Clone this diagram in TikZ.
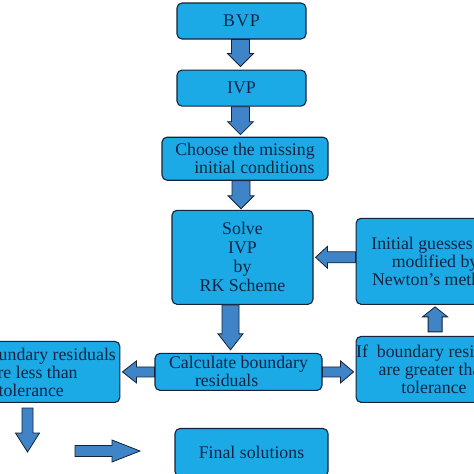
\documentclass[tikz,border=0pt]{standalone}
\usepackage{fontspec}
\setmainfont{Liberation Serif}
\usepackage{tikz}
\usetikzlibrary{positioning,calc}
\definecolor{boxblue}{RGB}{28,170,230}
\definecolor{arrblue}{RGB}{62,132,198}
\definecolor{edgenavy}{RGB}{22,34,56}
\definecolor{textnavy}{RGB}{16,36,68}
\tikzset{
  stepbox/.style={draw=edgenavy, line width=1.1pt, rounded corners=5pt,
    fill=boxblue, text=textnavy, inner sep=2pt,
    font=\fontsize{17.8}{18}\selectfont},
  % block arrow: shaft width, head width, head length
  blockarr/.style n args={3}{draw=edgenavy, fill=arrblue, line width=0.8pt,
    to path={let \p1=(\tikztostart), \p2=(\tikztotarget),
      \n1={atan2(\y2-\y1,\x2-\x1)}, \n2={veclen(\x2-\x1,\y2-\y1)} in
      {[shift={(\p1)}, rotate=\n1]
        (0,{-#1/2}) -- ({\n2-#3},{-#1/2}) -- ({\n2-#3},{-#2/2}) -- (\n2,0)
        -- ({\n2-#3},{#2/2}) -- ({\n2-#3},{#1/2}) -- (0,{#1/2}) -- cycle}}},
}

\begin{document}
\begin{tikzpicture}[x=1pt, y=-1pt]
  \useasboundingbox (0,0) rectangle (474,474);
  \clip (0,0) rectangle (474,474);
  \fill[white] (0,0) rectangle (474,474);

  % Main column
  \node[stepbox, minimum width=129pt, minimum height=36pt] (bvp) at (241.5,21)
    {B\kern1pt V\kern1pt P};
  \node[stepbox, minimum width=129pt, minimum height=36pt,
        below=30pt of bvp] (ivp) {IVP};
  \node[stepbox, minimum width=166pt, minimum height=43pt, align=left,
        below=30pt of ivp, xshift=3.5pt] (choose)
    {Choose the missing\\\hspace*{19pt}initial conditions};
  \node[stepbox, minimum width=141pt, minimum height=94pt, align=center,
        below=29pt of choose, xshift=-2.5pt] (solve)
    {Solve\\[1pt]IVP\\[1pt]by\\[1pt]RK Scheme};
  \node[stepbox, minimum width=167pt, minimum height=37pt, align=left,
        below=48pt of solve, xshift=-4pt] (calc)
    {Calculate boundary\\\hspace*{26pt}residuals};
  \node[stepbox, minimum width=153pt, minimum height=48pt,
        below=37pt of calc, xshift=13pt] (final) {Final solutions};

  % Side boxes
  \node[stepbox, minimum width=158pt, minimum height=86pt, align=center,
        right=42pt of solve, yshift=-4pt] (guess)
    {Initial guesses are\\modified by\\Newton's method};
  \node[stepbox, minimum height=61pt, inner xsep=4pt, align=left,
        left=34pt of calc] (less)
    {If boundary residuals\\\hspace*{25pt}are less than\\\hspace*{34pt}tolerance};
  \node[stepbox, minimum width=150pt, minimum height=66pt, inner xsep=0pt,
        align=center, right=33pt of calc, yshift=2.5pt] (greater)
    {If\ \ boundary residuals\\are greater than\\tolerance};

  % Free ends of the bottom arrows
  \coordinate (downA) at (27.5,408);
  \coordinate (downB) at (27.5,452);
  \coordinate (rightA) at (75,451);
  \coordinate (rightB) at (140,451);

  % Arrows
  \draw[blockarr={18}{26}{13}] ([xshift=-1pt]bvp.south)
    to ($(bvp.south |- ivp.north)+(-1pt,3pt)$);
  \draw[blockarr={18}{26}{13}] ([xshift=-1pt]ivp.south)
    to ($(ivp.south |- choose.north)+(-1pt,2pt)$);
  \draw[blockarr={18}{26}{13}] ([xshift=-4pt]choose.south)
    to ($(choose.south |- solve.north)+(-4pt,1pt)$);
  \draw[blockarr={11}{22}{12}] (guess.west |- solve.east) to ([xshift=2pt]solve.east);
  \draw[blockarr={17}{25}{16}] ([xshift=-12pt]solve.south)
    to ($(solve.south |- calc.north)+(-12pt,3pt)$);
  \draw[blockarr={10}{22}{14}] (calc.west) to ($(less.east |- calc.west)+(2pt,0pt)$);
  \draw[blockarr={10}{22}{13}] (calc.east) to ($(greater.west |- calc.east)+(-2pt,0pt)$);
  \draw[blockarr={14}{25}{10}] ($(guess.south |- greater.north)+(0pt,4pt)$)
    to ([yshift=-2pt]guess.south);
  \draw[blockarr={11}{24}{19}] (downA) to (downB);
  \draw[blockarr={11}{22}{28}] (rightA) to (rightB);
\end{tikzpicture}
\end{document}
